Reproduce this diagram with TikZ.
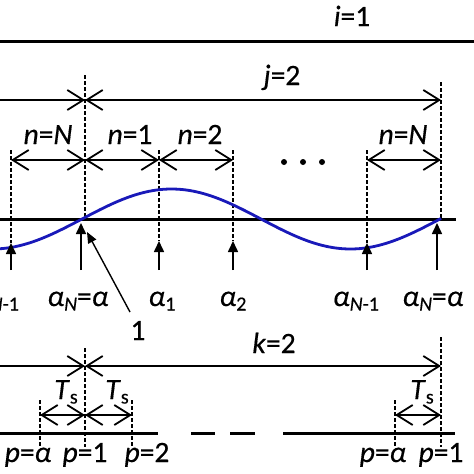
\documentclass[tikz,border=0pt]{standalone}
\usepackage{fontspec}
\setmainfont[FakeBold=0.4]{Carlito}
\usetikzlibrary{arrows.meta}
\newcommand\lsub[1]{\raisebox{-4.5pt}{\fontsize{20}{20}\selectfont #1}}
\begin{document}
\begin{tikzpicture}[x=1pt,y=-1pt,
  thickline/.style={line width=3pt},
  dimline/.style={line width=1.8pt},
  barb/.tip={Straight Barb[length=16pt,width=20pt,line width=1.8pt]},
  vdash/.style={line width=1.7pt,dash pattern=on 3.5pt off 2.5pt},
  uparrow/.style={line width=1.6pt,-{Triangle[length=11pt,width=10pt]}},
  lbl/.style={font=\fontsize{29.5}{31}\selectfont,inner sep=0pt,anchor=base},
  curve/.style={line width=2.8pt,color={rgb,255:red,25;green,25;blue,185}}
]
\useasboundingbox (0,0) rectangle (474,474);

% ---- i = 1 ----
\coordinate (iL) at (0,41);
\coordinate (iR) at (474,41);
\draw[thickline] (iL) -- (iR);
\node[lbl] (ilab) at (352,26) {\textit{i}=1};

% ---- j = 2 ----
\coordinate (jL) at (0,100);
\coordinate (jM) at (85,100);
\coordinate (jR) at (441,100);
\draw[dimline,-barb] (jL) -- (jM);
\draw[dimline,barb-barb] (jM) -- (jR);
\node[lbl] (jlab) at (282,85) {\textit{j}=2};

% vertical dashed lines (upper part)
\coordinate (v1t) at (11,150);  \coordinate (v1b) at (11,243);
\coordinate (v2t) at (85,75);   \coordinate (v2b) at (85,219);
\coordinate (v3t) at (159,150); \coordinate (v3b) at (159,241);
\coordinate (v4t) at (233,150); \coordinate (v4b) at (233,241);
\coordinate (v5t) at (367,150); \coordinate (v5b) at (367,243);
\coordinate (v6t) at (441,82);  \coordinate (v6b) at (441,219);
\foreach \n in {1,...,6} \draw[vdash] (v\n t) -- (v\n b);

% n arrows
\coordinate (n1) at (11,160);
\coordinate (n2) at (85,160);
\coordinate (n3) at (159,160);
\coordinate (n4) at (233,160);
\coordinate (n5) at (367,160);
\coordinate (n6) at (441,160);
\draw[dimline,barb-barb] (n1) -- (n2);
\draw[dimline,barb-barb] (n2) -- (n3);
\draw[dimline,barb-barb] (n3) -- (n4);
\draw[dimline,barb-barb] (n5) -- (n6);
\node[lbl] (nA) at (48,144) {\textit{n}=\textit{N}};
\node[lbl] (nB) at (130,144) {\textit{n}=1};
\node[lbl] (nC) at (200,144) {\textit{n}=2};
\node[lbl] (nD) at (403,144) {\textit{n}=\textit{N}};
\fill (284,162) circle (3pt) (303,162) circle (3pt) (322,162) circle (3pt);

% middle line and sine curve
\coordinate (mL) at (0,219);
\coordinate (mR) at (456,219);
\draw[thickline] (mL) -- (mR);
\draw[curve] plot[domain=0:441,samples=120,smooth] (\x,{219-30*sin((\x-82)/358*360)});

% alpha arrows
\coordinate (a1b) at (11,270);  \coordinate (a1t) at (11,243);
\coordinate (a2b) at (81,270);  \coordinate (a2t) at (81,223);
\coordinate (a3b) at (159,270); \coordinate (a3t) at (159,241);
\coordinate (a4b) at (233,270); \coordinate (a4t) at (233,241);
\coordinate (a5b) at (367,270); \coordinate (a5t) at (367,243);
\coordinate (a6b) at (437,270); \coordinate (a6t) at (437,223);
\foreach \n in {1,...,6} \draw[uparrow] (a\n b) -- (a\n t);
\node[lbl] (al1) at (-4,306) {\textit{α}\lsub{\textit{N}-1}};
\node[lbl] (al2) at (78,306) {\textit{α}\lsub{\textit{N}}=\textit{α}};
\node[lbl] (al3) at (162,306) {\textit{α}\lsub{1}};
\node[lbl] (al4) at (233,306) {\textit{α}\lsub{2}};
\node[lbl] (al5) at (356,306) {\textit{α}\lsub{\textit{N}-1}};
\node[lbl] (al6) at (433,306) {\textit{α}\lsub{\textit{N}}=\textit{α}};

% leader "1"
\node[lbl] (one) at (138,340) {1};
\coordinate (ldS) at (130,312);
\coordinate (ldE) at (87,232);
\draw[line width=1.4pt,-{Triangle[length=11pt,width=9pt]}] (ldS) -- (ldE);

% ---- k = 2 ----
\coordinate (kL) at (0,366);
\coordinate (kM) at (85,366);
\coordinate (kR) at (441,366);
\draw[dimline,-barb] (kL) -- (kM);
\draw[dimline,barb-barb] (kM) -- (kR);
\node[lbl] (klab) at (274,353) {\textit{k}=2};

\coordinate (w1t) at (40,400);  \coordinate (w1b) at (40,447);
\coordinate (w2t) at (85,348);  \coordinate (w2b) at (85,447);
\coordinate (w3t) at (132,400); \coordinate (w3b) at (132,447);
\coordinate (w4t) at (395,400); \coordinate (w4b) at (395,447);
\coordinate (w5t) at (441,337); \coordinate (w5b) at (441,447);
\foreach \n in {1,...,5} \draw[vdash] (w\n t) -- (w\n b);

% T_s arrows
\coordinate (t1) at (40,415);
\coordinate (t2) at (85,415);
\coordinate (t3) at (132,415);
\coordinate (t4) at (395,415);
\coordinate (t5) at (441,415);
\draw[dimline,barb-barb] (t1) -- (t2);
\draw[dimline,barb-barb] (t2) -- (t3);
\draw[dimline,barb-barb] (t4) -- (t5);
\node[lbl] (ts1) at (66,399) {\textit{T}\lsub{s}};
\node[lbl] (ts2) at (117,399) {\textit{T}\lsub{s}};
\node[lbl] (ts3) at (422,399) {\textit{T}\lsub{s}};

% bottom broken line
\coordinate (b1) at (0,433);   \coordinate (b2) at (158,433);
\coordinate (b3) at (191,433); \coordinate (b4) at (215,433);
\coordinate (b5) at (230,433); \coordinate (b6) at (255,433);
\coordinate (b7) at (283,433); \coordinate (b8) at (455,433);
\draw[thickline] (b1) -- (b2) (b3) -- (b4) (b5) -- (b6) (b7) -- (b8);

\node[lbl] (p1) at (28,462) {\textit{p}=\textit{α}};
\node[lbl] (p2) at (85,462) {\textit{p}=1};
\node[lbl] (p3) at (147,462) {\textit{p}=2};
\node[lbl] (p4) at (383,462) {\textit{p}=\textit{α}};
\node[lbl] (p5) at (441,462) {\textit{p}=1};
\end{tikzpicture}
\end{document}
